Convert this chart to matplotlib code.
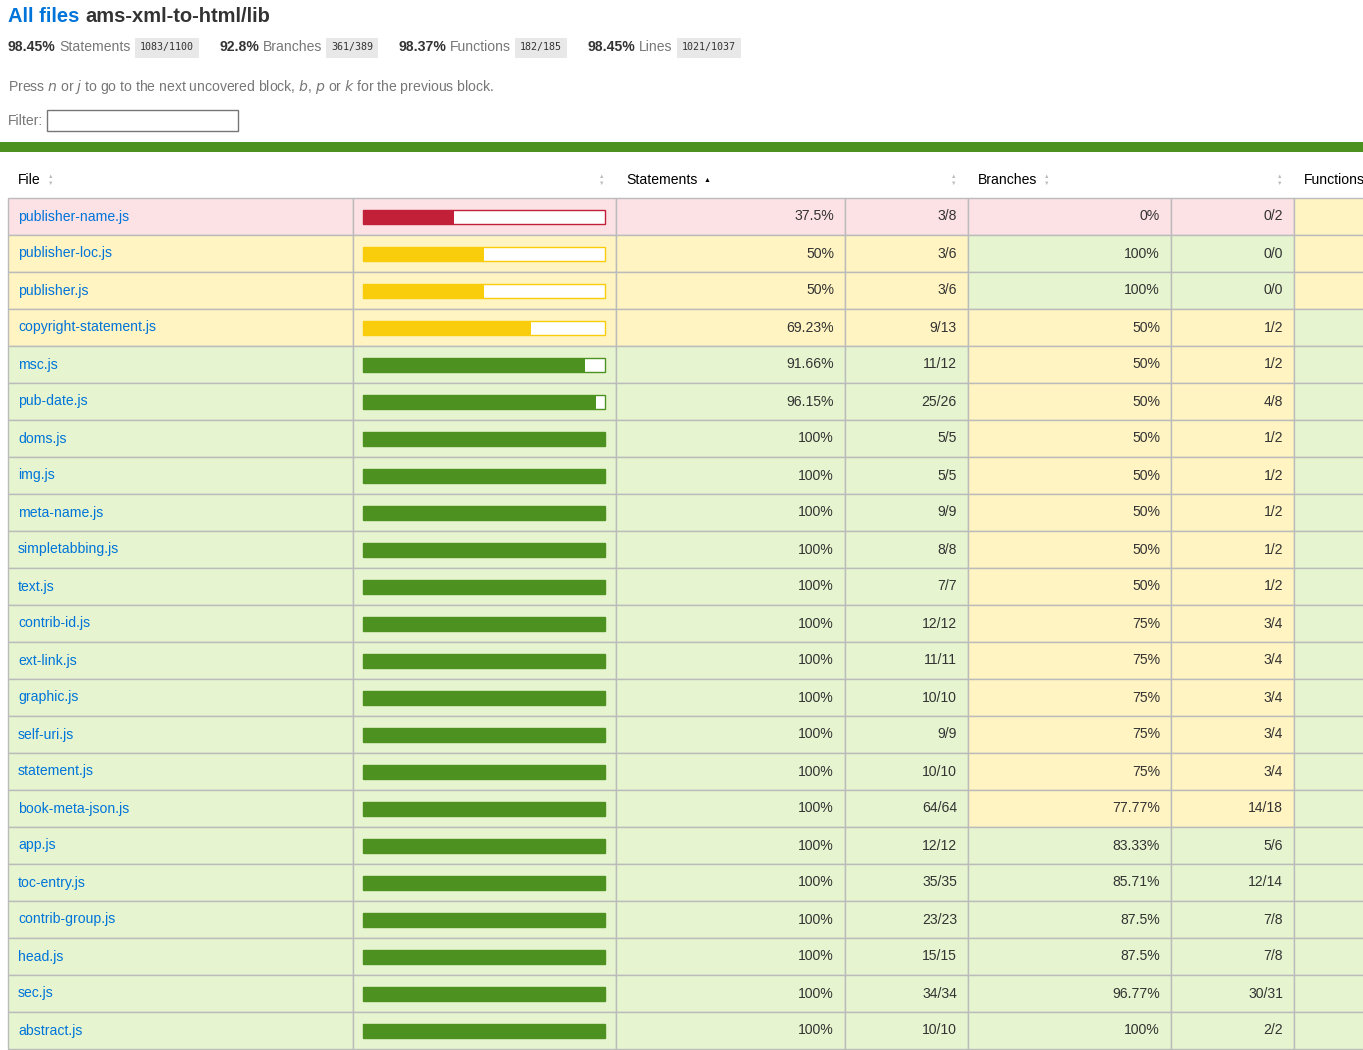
import matplotlib.pyplot as plt
from matplotlib.patches import Rectangle

files = ['publisher-name.js', 'publisher-loc.js', 'publisher.js', 'copyright-statement.js',
         'msc.js', 'pub-date.js', 'doms.js', 'img.js', 'meta-name.js', 'simpletabbing.js',
         'text.js', 'contrib-id.js', 'ext-link.js', 'graphic.js', 'self-uri.js',
         'statement.js', 'book-meta-json.js', 'app.js', 'toc-entry.js', 'contrib-group.js',
         'head.js', 'sec.js', 'abstract.js']
stmt_pct = [37.5, 50, 50, 69.23, 91.66, 96.15, 100, 100, 100, 100, 100, 100, 100, 100,
            100, 100, 100, 100, 100, 100, 100, 100, 100]
stmt_frac = ['3/8', '3/6', '3/6', '9/13', '11/12', '25/26', '5/5', '5/5', '9/9', '8/8',
             '7/7', '12/12', '11/11', '10/10', '9/9', '10/10', '64/64', '12/12', '35/35',
             '23/23', '15/15', '34/34', '10/10']
br_pct = [0, 100, 100, 50, 50, 50, 50, 50, 50, 50, 50, 75, 75, 75, 75, 75, 77.77, 83.33,
          85.71, 87.5, 87.5, 96.77, 100]
br_frac = ['0/2', '0/0', '0/0', '1/2', '1/2', '4/8', '1/2', '1/2', '1/2', '1/2', '1/2',
           '3/4', '3/4', '3/4', '3/4', '3/4', '14/18', '5/6', '12/14', '7/8', '7/8',
           '30/31', '2/2']
fn_level = ['medium', 'medium', 'medium'] + ['high'] * 20

summary = [('98.45%', 'Statements', '1083/1100'), ('92.8%', 'Branches', '361/389'),
           ('98.37%', 'Functions', '182/185'), ('98.45%', 'Lines', '1021/1037')]

bg = {'low': '#fce1e5', 'medium': '#fff4c2', 'high': '#e6f5d0'}
fg = {'low': '#c21f39', 'medium': '#f9cd0b', 'high': '#4d9221'}


def level(p, frac=None):
    if frac == '0/0':
        return 'high'
    if p >= 80:
        return 'high'
    if p >= 50:
        return 'medium'
    return 'low'


def fmt(p):
    return ('%g' % p) + '%'


plt.rcParams['font.family'] = 'Liberation Sans'
W, H = 1363, 1050
fig = plt.figure(figsize=(W / 100, H / 100), dpi=100)
ax = fig.add_axes([0, 0, 1, 1])
ax.set_xlim(0, W)
ax.set_ylim(H, 0)
ax.axis('off')

fs = 10.1
dark = '#333333'
grey = '#777777'

# header
ax.text(8, 17, 'All files', fontsize=14.5, fontweight='bold', color='#0074d9', va='center')
ax.text(85, 17, 'ams-xml-to-html/lib', fontsize=14.5, fontweight='bold', color=dark, va='center')

x = 8
r = fig.canvas.get_renderer()
for pct, name, frac in summary:
    t = ax.text(x, 47, pct, fontsize=fs, fontweight='bold', color=dark, va='center')
    w = t.get_window_extent(r).width
    x += w + 4
    t = ax.text(x, 47, name, fontsize=fs, color=grey, va='center')
    x += t.get_window_extent(r).width + 4
    t = ax.text(x + 5, 47, frac, fontsize=7.2, family='DejaVu Sans Mono', color=dark, va='center')
    tw = t.get_window_extent(r).width
    ax.add_patch(Rectangle((x, 38), tw + 10, 20, facecolor='#e8e8e8', edgecolor='none', zorder=0))
    x += tw + 10 + 20

ax.text(8, 87, 'Press $\\it{n}$ or $\\it{j}$ to go to the next uncovered block, $\\it{b}$, $\\it{p}$ or $\\it{k}$ for the previous block.',
        fontsize=fs, color=grey, va='center')
ax.text(8, 121, 'Filter:', fontsize=fs, color=grey, va='center')
ax.add_patch(Rectangle((47, 110), 191, 21, facecolor='white', edgecolor='#767676', lw=1))

ax.add_patch(Rectangle((0, 142), W, 10, facecolor='#4d9221', edgecolor='none'))

# column headers
hy = 180
ax.text(18, hy, 'File', fontsize=fs, color='black', va='center')
ax.text(626, hy, 'Statements', fontsize=fs, color='black', va='center')
ax.text(978, hy, 'Branches', fontsize=fs, color='black', va='center')
ax.text(1304, hy, 'Functions', fontsize=fs, color='black', va='center')
for sx in [51, 602, 954, 1047, 1280]:
    ax.text(sx, hy - 3, '\u25b2', fontsize=4, color='#bbbbbb', ha='center', va='center')
    ax.text(sx, hy + 3, '\u25bc', fontsize=4, color='#bbbbbb', ha='center', va='center')
ax.text(707, hy, '\u25b2', fontsize=5, color='black', ha='center', va='center')

cols = [8, 353, 616, 845, 968, 1171, 1294, 1400]
top, rh = 198, 37
for i, f in enumerate(files):
    y0 = top + i * rh
    sl = level(stmt_pct[i])
    bl = level(br_pct[i], br_frac[i])
    fills = [bg[sl], bg[sl], bg[sl], bg[sl], bg[bl], bg[bl], bg[fn_level[i]]]
    for c in range(7):
        ax.add_patch(Rectangle((cols[c], y0), cols[c + 1] - cols[c], rh,
                               facecolor=fills[c], edgecolor='#bbbbbb', lw=1))
    yc = y0 + rh / 2
    ax.text(18, yc, f, fontsize=fs, color='#0074d9', va='center')
    bw = 242
    ax.add_patch(Rectangle((363, yc - 7), bw, 14, facecolor='white', edgecolor=fg[sl], lw=1))
    ax.add_patch(Rectangle((363, yc - 7), bw * stmt_pct[i] / 100, 14, facecolor=fg[sl], edgecolor='none'))
    ax.text(834, yc, fmt(stmt_pct[i]), fontsize=fs, color=dark, va='center', ha='right')
    ax.text(957, yc, stmt_frac[i], fontsize=fs, color=dark, va='center', ha='right')
    ax.text(1160, yc, fmt(br_pct[i]), fontsize=fs, color=dark, va='center', ha='right')
    ax.text(1283, yc, br_frac[i], fontsize=fs, color=dark, va='center', ha='right')

fig.savefig('out.png', dpi=100)
